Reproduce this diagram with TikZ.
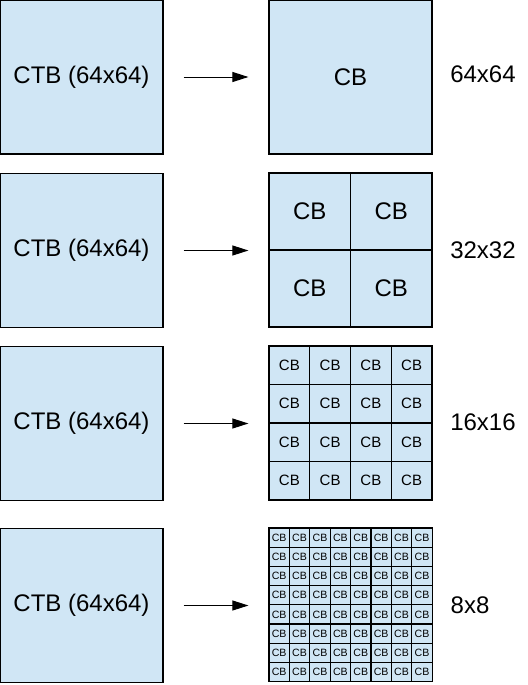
\documentclass[tikz,border=0pt]{standalone}
\usepackage{fontspec}
\setmainfont{Liberation Sans}
\usetikzlibrary{arrows.meta}

\definecolor{cbblue}{RGB}{208,230,245}

\tikzset{
    ctbbox/.style={draw, line width=0.6pt, fill=cbblue, inner sep=0pt,
        minimum width=81.5pt, minimum height=77pt, font=\fontsize{12}{14}\selectfont},
    cbcell/.style={draw, line width=0.6pt, fill=cbblue, inner sep=0pt},
    splitarrow/.style={-{Triangle[length=8pt,width=5pt]}, line width=0.5pt,
        shorten <=10pt, shorten >=10pt},
    sizelabel/.style={font=\fontsize{12}{14}\selectfont}
}

\begin{document}
\begin{tikzpicture}[x=0.5pt, y=-0.5pt]
        \useasboundingbox (0, 0) rectangle (527, 685);

        % CTBs on the left
        \node[ctbbox] (ctb1) at (81.5, 77) {CTB (64x64)};
        \node[ctbbox] (ctb2) at (81.5, 250.5) {CTB (64x64)};
        \node[ctbbox] (ctb3) at (81.5, 423.5) {CTB (64x64)};
        \node[ctbbox] (ctb4) at (81.5, 605.5) {CTB (64x64)};

        % 64x64: one CB
        \node[cbcell, minimum width=81.5pt, minimum height=77pt,
            font=\fontsize{12}{14}\selectfont] (cb1) at (350.5, 77) {CB};

        % 32x32: 2x2 CBs
        \foreach \i in {0,1} {
            \foreach \j in {0,1} {
                \node[cbcell, minimum width=40.75pt, minimum height=38.5pt,
                    font=\fontsize{12}{14}\selectfont]
                    (cbb-\i-\j) at (269 + 40.75 + \i*81.5, 173 + 38.5 + \j*77) {CB};
            }
        }

        % 16x16: 4x4 CBs
        \foreach \i in {0,...,3} {
            \foreach \j in {0,...,3} {
                \node[cbcell, minimum width=20.375pt, minimum height=19.25pt,
                    font=\fontsize{7.5}{9}\selectfont]
                    (cbc-\i-\j) at (269 + 20.375 + \i*40.75, 346 + 19.25 + \j*38.5) {CB};
            }
        }

        % 8x8: 8x8 CBs
        \foreach \i in {0,...,7} {
            \foreach \j in {0,...,7} {
                \node[cbcell, minimum width=10.2pt, minimum height=9.6pt,
                    font=\fontsize{5.3}{6}\selectfont]
                    (cbd-\i-\j) at (269 + 10.2 + \i*20.4, 528 + 9.6 + \j*19.2) {CB};
            }
        }

        % Arrows between CTBs and their CBs
        \draw[splitarrow] (ctb1.east) -- (cb1.west);
        \draw[splitarrow] (ctb2.east) -- (ctb2.east -| cbb-0-0.west);
        \draw[splitarrow] (ctb3.east) -- (ctb3.east -| cbc-0-0.west);
        \draw[splitarrow] (ctb4.east) -- (ctb4.east -| cbd-0-0.west);

        % CB sizes
        \node[sizelabel] (size1) at (483, 74) {64x64};
        \node[sizelabel] (size2) at (483, 250) {32x32};
        \node[sizelabel] (size3) at (483, 422) {16x16};
        \node[sizelabel] (size4) at (470, 605) {8x8};
    \end{tikzpicture}
\end{document}
